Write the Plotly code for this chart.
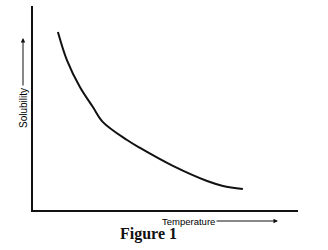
import plotly.graph_objects as go

# Data (arbitrary units, 0-100 on both axes)
temperature = [9.4, 12.8, 17.7, 22.6, 26.4, 35.5, 40.4, 52.8, 65.7, 71.7, 79.2]
solubility = [87.3, 73.5, 60.3, 50.5, 43.1, 34.3, 30.4, 21.6, 14.2, 11.8, 10.3]
x_label = "Temperature"
y_label = "Solubility"
caption = "Figure 1"

W, H = 328, 250
L, R, T, B = 33, 30, 6, 40
pw, ph = W - L - R, H - T - B

def px(x):
    return (x - L) / pw

def py(y):
    return (H - B - y) / ph

fig = go.Figure()
fig.add_trace(go.Scatter(
    x=temperature, y=solubility, mode="lines",
    line=dict(color="#111111", width=2, shape="spline", smoothing=1.0),
    hoverinfo="skip", showlegend=False,
))

fig.update_xaxes(range=[0, 100], showline=True, linecolor="#111111", linewidth=2,
                 showgrid=False, zeroline=False, showticklabels=False, ticks="")
fig.update_yaxes(range=[0, 100], showline=True, linecolor="#111111", linewidth=2,
                 showgrid=False, zeroline=False, showticklabels=False, ticks="")

sans = "Liberation Sans, Arial, sans-serif"
anns = [
    # y label
    dict(text=y_label, x=px(23), y=py(108), xref="paper", yref="paper",
         showarrow=False, textangle=-90, font=dict(size=10, family=sans, color="#000000"),
         xanchor="center", yanchor="middle"),
    # y arrow
    dict(text="", x=px(23), y=py(38), ax=0, ay=49, xref="paper", yref="paper",
         axref="pixel", ayref="pixel", showarrow=True, arrowhead=2, arrowsize=0.9,
         arrowwidth=1, arrowcolor="#111111", standoff=0),
    # x label
    dict(text=x_label, x=px(160), y=py(221), xref="paper", yref="paper",
         showarrow=False, font=dict(size=9.5, family=sans, color="#000000"),
         xanchor="left", yanchor="middle"),
    # x arrow
    dict(text="", x=px(278), y=py(221), ax=-63, ay=0, xref="paper", yref="paper",
         axref="pixel", ayref="pixel", showarrow=True, arrowhead=2, arrowsize=0.9,
         arrowwidth=1, arrowcolor="#111111", standoff=0),
    # caption
    dict(text="<b>" + caption + "</b>", x=px(148), y=py(234), xref="paper", yref="paper",
         showarrow=False, font=dict(size=16, family="Liberation Serif, Times New Roman, serif",
                                    color="#111111"),
         xanchor="center", yanchor="middle"),
]
fig.update_layout(
    width=W, height=H, margin=dict(l=L, r=R, t=T, b=B),
    paper_bgcolor="white", plot_bgcolor="white", annotations=anns,
)
fig.write_html("out.html")
